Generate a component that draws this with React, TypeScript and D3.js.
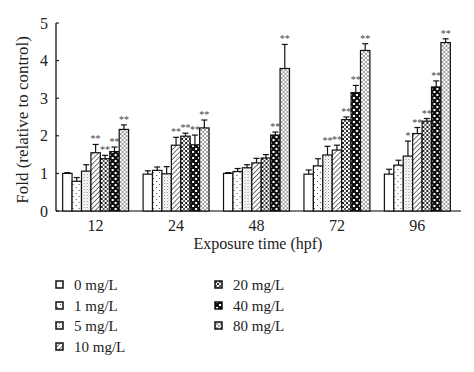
import React from "react";
import * as d3 from "d3";

const categories = ["12", "24", "48", "72", "96"];
const seriesNames = ["0 mg/L", "1 mg/L", "5 mg/L", "10 mg/L", "20 mg/L", "40 mg/L", "80 mg/L"];
// values[series][category]
const s0 = [1.0, 0.98, 1.0, 0.98, 0.98];
const s1 = [0.79, 1.08, 1.05, 1.2, 1.22];
const s2 = [1.06, 0.99, 1.15, 1.49, 1.46];
const s3 = [1.55, 1.75, 1.28, 1.62, 2.06];
const s4 = [1.39, 1.99, 1.41, 2.43, 2.39];
const s5 = [1.58, 1.76, 2.02, 3.15, 3.3];
const s6 = [2.17, 2.21, 3.79, 4.27, 4.48];
const values = [s0, s1, s2, s3, s4, s5, s6];
const e0 = [0.02, 0.09, 0.02, 0.11, 0.13];
const e1 = [0.1, 0.09, 0.08, 0.19, 0.13];
const e2 = [0.17, 0.19, 0.08, 0.23, 0.4];
const e3 = [0.22, 0.21, 0.12, 0.13, 0.16];
const e4 = [0.09, 0.08, 0.09, 0.07, 0.07];
const e5 = [0.12, 0.26, 0.08, 0.19, 0.16];
const e6 = [0.12, 0.21, 0.64, 0.18, 0.1];
const errors = [e0, e1, e2, e3, e4, e5, e6];
const s0sig = ["", "", "", "", ""];
const s1sig = ["", "", "", "", ""];
const s2sig = ["", "", "", "**", "*"];
const s3sig = ["**", "**", "", "**", "**"];
const s4sig = ["**", "**", "", "**", "**"];
const s5sig = ["**", "**", "**", "**", "**"];
const s6sig = ["**", "**", "**", "**", "**"];
const sig = [s0sig, s1sig, s2sig, s3sig, s4sig, s5sig, s6sig];
const yTicks = [0, 1, 2, 3, 4, 5];

const FONT = "'Liberation Serif', 'Times New Roman', serif";

export default function App() {
  const W = 474, H = 372;
  const y = d3.scaleLinear().domain([0, 5]).range([211, 23]);
  const x0 = d3.scaleBand<string>().domain(categories).range([53, 460]).paddingInner(0.18).paddingOuter(0.12);
  const x1 = d3.scaleBand<number>().domain(d3.range(seriesNames.length)).range([0, x0.bandwidth()]);
  const fills = ["#fff", "url(#p1)", "url(#p2)", "url(#p3)", "url(#p4)", "url(#p5)", "url(#p6)"];
  const legendPos = [
    [56, 285], [56, 306], [56, 326], [56, 347],
    [215, 285], [215, 306], [215, 326],
  ];
  return (
    <svg width={W} height={H} style={{ position: "absolute", left: 0, top: 0, background: "#fff" }}>
      <defs>
        <pattern id="p1" width="6" height="6" patternUnits="userSpaceOnUse">
          <rect width="6" height="6" fill="#fff" />
          <rect x="1" y="1" width="1" height="1" fill="#555" />
          <rect x="4" y="4" width="1" height="1" fill="#555" />
        </pattern>
        <pattern id="p2" width="3" height="3" patternUnits="userSpaceOnUse">
          <rect width="3" height="3" fill="#fff" />
          <rect x="0" y="0" width="1" height="1" fill="#888" />
          <rect x="1.5" y="1.5" width="1" height="1" fill="#aaa" />
        </pattern>
        <pattern id="p3" width="3.5" height="3.5" patternUnits="userSpaceOnUse" patternTransform="rotate(45)">
          <rect width="3.5" height="3.5" fill="#fff" />
          <line x1="0" y1="0" x2="0" y2="3.5" stroke="#333" strokeWidth="1.4" />
        </pattern>
        <pattern id="p4" width="4" height="4" patternUnits="userSpaceOnUse">
          <rect width="4" height="4" fill="#fff" />
          <rect x="0" y="0" width="2" height="2" fill="#222" />
          <rect x="2" y="2" width="2" height="2" fill="#222" />
          <rect x="0.5" y="0.5" width="1" height="1" fill="#fff" />
        </pattern>
        <pattern id="p5" width="6" height="6" patternUnits="userSpaceOnUse">
          <rect width="6" height="6" fill="#111" />
          <rect x="1" y="1" width="2" height="2" fill="#fff" />
          <rect x="4" y="4" width="2" height="2" fill="#fff" />
        </pattern>
        <pattern id="p6" width="4" height="4" patternUnits="userSpaceOnUse">
          <rect width="4" height="4" fill="#fff" />
          <path d="M0,0 L4,4 M4,0 L0,4" stroke="#888" strokeWidth="0.8" />
        </pattern>
      </defs>
      {/* axes */}
      <line x1={56} x2={56} y1={y(5)} y2={y(0)} stroke="#000" strokeWidth={1.2} />
      <line x1={56} x2={461} y1={y(0)} y2={y(0)} stroke="#000" strokeWidth={1.2} />
      {yTicks.map((t) => (
        <g key={t}>
          <line x1={56} x2={59} y1={y(t)} y2={y(t)} stroke="#000" strokeWidth={1} />
          <text x={48} y={y(t)} dy="0.35em" textAnchor="end" fontFamily={FONT} fontSize={16} fill="#222">{t}</text>
        </g>
      ))}
      {/* bars */}
      {categories.map((c, ci) => (
        <g key={c} transform={`translate(${x0(c)},0)`}>
          {values.map((vals, si) => {
            const v = vals[ci];
            const bx = x1(si)!;
            const bw = x1.bandwidth();
            const top = y(v + errors[si][ci]);
            const cx = bx + bw / 2;
            return (
              <g key={si}>
                <rect x={bx} y={y(v)} width={bw} height={y(0) - y(v)} fill={fills[si]} stroke="#111" strokeWidth={1.2} />
                <line x1={cx} x2={cx} y1={y(v)} y2={top} stroke="#111" strokeWidth={1.2} />
                <line x1={cx - 3} x2={cx + 3} y1={top} y2={top} stroke="#111" strokeWidth={1.2} />
                {sig[si][ci] && (
                  <text x={cx} y={top - 2} textAnchor="middle" fontFamily={FONT} fontSize={10} fill="#444">{sig[si][ci]}</text>
                )}
              </g>
            );
          })}
          <text x={x0.bandwidth() / 2} y={231} textAnchor="middle" fontFamily={FONT} fontSize={16} fill="#222">{c}</text>
        </g>
      ))}
      <text x={258} y={249} textAnchor="middle" fontFamily={FONT} fontSize={16} fill="#222">Exposure time (hpf)</text>
      <text transform={`translate(28,${(y(0) + y(5)) / 2 + 3}) rotate(-90)`} textAnchor="middle" fontFamily={FONT} fontSize={17} fill="#222">Fold (relative to control)</text>
      {/* legend */}
      {seriesNames.map((n, i) => (
        <g key={n} transform={`translate(${legendPos[i][0]},${legendPos[i][1]})`}>
          <rect x={0} y={-4} width={7} height={7} fill={fills[i]} stroke="#111" strokeWidth={1.5} />
          <text x={18} y={0} dy="0.35em" fontFamily={FONT} fontSize={15} fill="#222">{n}</text>
        </g>
      ))}
    </svg>
  );
}
